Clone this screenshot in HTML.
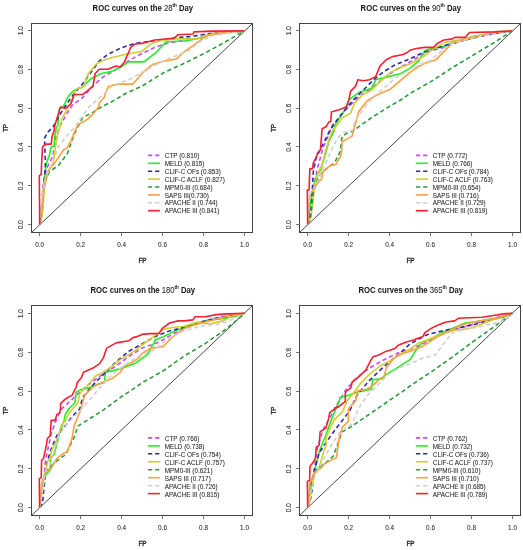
<!DOCTYPE html><html><head><meta charset="utf-8"><style>
html,body{margin:0;padding:0;background:#fff;width:523px;height:550px;overflow:hidden}
svg{display:block;filter:blur(0.3px)}
text{font-family:"Liberation Sans", sans-serif;fill:#1a1a1a;stroke:#1a1a1a;stroke-width:0.04px}
</style></head><body>
<svg width="523" height="550" viewBox="0 0 523 550">
<g><line x1="31.5" y1="232.5" x2="252.5" y2="23.5" stroke="#333" stroke-width="0.9"/>
<polyline points="39.6,224.5 43.5,182.2 46.4,168.9 49.3,163.2 53.1,155.5 56,136.4 58.8,128.8 65.7,115.5 72,105.5 82.7,97.5 93.4,85.4 104.1,76.1 112.2,72 120.2,66.7 129.6,60 142,53.5 154.7,47.4 167.5,43.2 180.2,41 195.1,38.9 205.7,35.7 226.9,32.5 244.3,30.9" fill="none" stroke="#c84cf8" stroke-width="1.6" stroke-linejoin="round" stroke-dasharray="4.3 2.9"/>
<polyline points="39.6,224.5 41.6,216.6 43.5,188 44.5,176.5 46.4,163.2 49.3,155.5 51.2,146.9 54,146 55,134.5 56,128.8 57.9,125 59.3,109.2 63.5,106.1 68.8,95.6 74.1,90.3 82.5,87.2 90.9,78.7 101.4,73.5 111.9,71.4 120.3,67.2 128.8,61.9 142,61.9 144.7,61.4 156.8,51.8 166.1,41.7 184.4,41 201.4,37.9 212,33.6 231.1,32.5 244.3,30.9" fill="none" stroke="#22f022" stroke-width="1.6" stroke-linejoin="round"/>
<polyline points="39.6,224.5 40.7,220.4 42.6,207.1 43.5,191.8 44.5,178.4 45.5,163.2 44.5,138.4 47.4,132.6 53.1,126.9 59.3,115.5 66.7,104 74.1,93.5 82.5,84 90.9,72.4 99.3,60.9 107.7,54.5 120.3,48.2 133,44 142,42.4 159,40 176,37.9 192.9,36.2 212,33.2 226.9,31.9 244.3,30.9" fill="none" stroke="#2c2ca8" stroke-width="1.6" stroke-linejoin="round" stroke-dasharray="4.3 2.9"/>
<polyline points="39.6,224.5 42.6,212.8 44.5,188 46.4,178.4 49.3,168.9 53.1,163.2 55,149.8 57.9,132.6 60.7,125 61.5,119.8 65.7,111.3 72,100.2 76,89.5 80,88.1 84.7,86.1 86,78.7 88.7,73.4 96.1,64 104.1,60 111.9,57.7 124.5,54.5 142,51.4 150.5,44.2 159,41 173.8,38.9 197.2,38.9 207.8,34.7 226.9,32.5 244.3,30.9" fill="none" stroke="#d4cc30" stroke-width="1.6" stroke-linejoin="round"/>
<polyline points="39.6,224.5 40.7,216.6 44.5,182.2 49.3,171.8 58.8,165.1 67.4,153.6 74.1,134.5 78.8,125 82.7,117.5 92.1,112.9 101.5,106.8 112.2,101.5 125.5,93.5 142,86.1 163.2,72.9 184.4,63.3 205.7,52.7 226.9,41 244.3,30.9" fill="none" stroke="#2c9c3c" stroke-width="1.6" stroke-linejoin="round" stroke-dasharray="4.3 2.9"/>
<polyline points="39.6,224.5 41.6,209 44.5,182.2 48.3,170.8 54,164.1 63.6,149.8 66.4,148.8 71.2,140.3 75,130.7 77.9,125 78,124.2 82.7,122.2 88.1,118.9 93.4,113.5 98.8,106.8 99.4,102.8 104.1,97.5 108.1,86.8 112.2,85.4 118.8,84.1 132.9,84.1 142,73.4 152.6,64.4 163.2,61.2 176,59.1 184.4,51.6 195.1,44.2 203.6,37.9 212,33.6 231.1,31.9 244.3,30.9" fill="none" stroke="#ffa040" stroke-width="1.6" stroke-linejoin="round"/>
<polyline points="39.6,224.5 41.6,201.3 45.5,176.5 50.2,168.9 58.8,146 66.4,136.4 75,126.9 88.8,107.1 97.2,99.8 105.6,92.4 111.9,86.1 120.3,82.9 130.8,78.7 142,72.4 154.7,65.5 165.3,60.1 178.1,54.8 188.7,50.6 199.3,42.1 212,35.7 226.9,33.2 244.3,30.9" fill="none" stroke="#cfcfcf" stroke-width="1.6" stroke-linejoin="round" stroke-dasharray="4.3 2.9"/>
<polyline points="39.6,224.5 39.7,224.2 39.3,175.6 41.2,174.6 41.6,163.2 42.6,146.9 45.5,144.1 51.2,144.1 52.1,136.4 54,130.7 55,125 60.4,107.1 65.7,108.2 70.9,104 74.1,94.5 82.5,94.5 86.7,91.4 93,86.1 95.1,73.5 99.3,69.3 107.7,69.3 116.1,66.1 120.3,67.2 124.5,61.9 130.8,47.2 135.1,44 142,43.4 154.7,40 173.8,38.3 178.1,34.7 192.9,34 194,31.9 212,31.1 244.3,30.9" fill="none" stroke="#f82030" stroke-width="1.6" stroke-linejoin="round"/>
<rect x="31.5" y="23.5" width="221" height="209" fill="none" stroke="#444" stroke-width="1"/>
<line x1="39.5" y1="232.5" x2="39.5" y2="236.1" stroke="#555" stroke-width="0.8"/>
<line x1="31.5" y1="224.5" x2="27.9" y2="224.5" stroke="#555" stroke-width="0.8"/>
<text x="39.6" y="247.3" font-size="6.4" text-anchor="middle">0.0</text>
<text transform="translate(22.8,224.6) rotate(-90)" font-size="6.4" text-anchor="middle">0.0</text>
<line x1="80.5" y1="232.5" x2="80.5" y2="236.1" stroke="#555" stroke-width="0.8"/>
<line x1="31.5" y1="185.5" x2="27.9" y2="185.5" stroke="#555" stroke-width="0.8"/>
<text x="80.6" y="247.3" font-size="6.4" text-anchor="middle">0.2</text>
<text transform="translate(22.8,185.8) rotate(-90)" font-size="6.4" text-anchor="middle">0.2</text>
<line x1="121.5" y1="232.5" x2="121.5" y2="236.1" stroke="#555" stroke-width="0.8"/>
<line x1="31.5" y1="146.5" x2="27.9" y2="146.5" stroke="#555" stroke-width="0.8"/>
<text x="121.6" y="247.3" font-size="6.4" text-anchor="middle">0.4</text>
<text transform="translate(22.8,147) rotate(-90)" font-size="6.4" text-anchor="middle">0.4</text>
<line x1="162.5" y1="232.5" x2="162.5" y2="236.1" stroke="#555" stroke-width="0.8"/>
<line x1="31.5" y1="108.5" x2="27.9" y2="108.5" stroke="#555" stroke-width="0.8"/>
<text x="162.5" y="247.3" font-size="6.4" text-anchor="middle">0.6</text>
<text transform="translate(22.8,108.2) rotate(-90)" font-size="6.4" text-anchor="middle">0.6</text>
<line x1="203.5" y1="232.5" x2="203.5" y2="236.1" stroke="#555" stroke-width="0.8"/>
<line x1="31.5" y1="69.5" x2="27.9" y2="69.5" stroke="#555" stroke-width="0.8"/>
<text x="203.5" y="247.3" font-size="6.4" text-anchor="middle">0.8</text>
<text transform="translate(22.8,69.4) rotate(-90)" font-size="6.4" text-anchor="middle">0.8</text>
<line x1="244.5" y1="232.5" x2="244.5" y2="236.1" stroke="#555" stroke-width="0.8"/>
<line x1="31.5" y1="30.5" x2="27.9" y2="30.5" stroke="#555" stroke-width="0.8"/>
<text x="244.5" y="247.3" font-size="6.4" text-anchor="middle">1.0</text>
<text transform="translate(22.8,30.6) rotate(-90)" font-size="6.4" text-anchor="middle">1.0</text>
<text x="142.5" y="263.1" font-size="6.4" text-anchor="middle" style="stroke-width:0.3px">FP</text>
<text transform="translate(8,128) rotate(-90)" font-size="6.4" text-anchor="middle" style="stroke-width:0.3px">TP</text>
<text transform="translate(142.8,10.6) scale(0.915,1)" font-size="8.4" font-weight="bold" text-anchor="middle">ROC curves on the <tspan font-weight="normal" style="stroke-width:0.05px">28</tspan><tspan font-size="5" dy="-4.0">th</tspan><tspan dy="4.0"> Day</tspan></text>
<line x1="147.9" y1="155.4" x2="159.9" y2="155.4" stroke="#c84cf8" stroke-width="1.6" stroke-dasharray="4.3 2.9"/>
<text x="164.8" y="158.2" font-size="6.36">CTP (0.810)</text>
<line x1="147.9" y1="163.3" x2="159.9" y2="163.3" stroke="#22f022" stroke-width="1.6"/>
<text x="164.8" y="166.1" font-size="6.36">MELD (0.815)</text>
<line x1="147.9" y1="171.2" x2="159.9" y2="171.2" stroke="#2c2ca8" stroke-width="1.6" stroke-dasharray="4.3 2.9"/>
<text x="164.8" y="174" font-size="6.36">CLIF-C OFs (0.853)</text>
<line x1="147.9" y1="179.1" x2="159.9" y2="179.1" stroke="#d4cc30" stroke-width="1.6"/>
<text x="164.8" y="181.8" font-size="6.36">CLIF-C ACLF (0.827)</text>
<line x1="147.9" y1="187" x2="159.9" y2="187" stroke="#2c9c3c" stroke-width="1.6" stroke-dasharray="4.3 2.9"/>
<text x="164.8" y="189.7" font-size="6.36">MPM0-III (0.684)</text>
<line x1="147.9" y1="194.9" x2="159.9" y2="194.9" stroke="#ffa040" stroke-width="1.6"/>
<text x="164.8" y="197.6" font-size="6.36">SAPS III(0.730)</text>
<line x1="147.9" y1="202.8" x2="159.9" y2="202.8" stroke="#cfcfcf" stroke-width="1.6" stroke-dasharray="4.3 2.9"/>
<text x="164.8" y="205.4" font-size="6.36">APACHE II (0.744)</text>
<line x1="147.9" y1="210.7" x2="159.9" y2="210.7" stroke="#f82030" stroke-width="1.6"/>
<text x="164.8" y="213.3" font-size="6.36">APACHE III (0.841)</text></g>
<g><line x1="299.5" y1="232.5" x2="520.5" y2="23.5" stroke="#333" stroke-width="0.9"/>
<polyline points="307.7,224.5 308.7,216.6 312.5,191.8 317.3,168.9 323,147.9 328.7,134.5 332.5,125 346.3,109.2 358.9,96.6 371.5,88.2 384.1,77.7 396.8,69.3 410,61.9 427,51.6 444,47.4 460.9,41 477.9,36.8 494.9,33.6 512.3,30.9" fill="none" stroke="#c84cf8" stroke-width="1.6" stroke-linejoin="round" stroke-dasharray="4.3 2.9"/>
<polyline points="307.7,224.5 308.7,214.7 311.5,197.5 313.4,186.1 317.3,174.6 320.7,170 324.8,156.2 328.8,141.5 334.1,130.8 334.8,125.4 338.1,120.1 340.8,116.1 346.2,108 348.9,100 350.5,98.7 358.9,92.4 371.5,88.2 375.7,79.8 388.3,76.6 401,73.5 410,68.2 418.5,61.2 424.9,50.6 431.2,48.5 444,46.4 456.7,41 465.2,38.9 473.7,36.2 484.3,34.7 499.1,31.9 512.3,30.9" fill="none" stroke="#22f022" stroke-width="1.6" stroke-linejoin="round"/>
<polyline points="307.7,224.5 309.6,220.4 311.5,205.2 312.5,186.1 313.4,170.8 316.3,157.4 321.1,147.9 324.9,140.3 329.7,130.7 333.5,125 342.1,113.4 352.6,100.8 363.1,90.3 373.6,79.8 384.1,71.4 394.6,65.1 410,58.8 422.7,52.7 435.5,48.5 452.4,43.2 469.4,38.9 486.4,34.7 499.1,32.5 512.3,30.9" fill="none" stroke="#2c2ca8" stroke-width="1.6" stroke-linejoin="round" stroke-dasharray="4.3 2.9"/>
<polyline points="307.7,224.5 310.6,218.5 312.5,205.2 314.4,186.1 318.2,172.7 322,165.1 324.9,153.6 328.7,140.3 332.5,130.7 337.3,125 342.1,117.7 350.5,113.4 354.7,102.9 363.1,94.5 371.5,90.3 379.9,81.9 390.4,72.4 401,67.2 410,64 422.7,57 435.5,47.4 446.1,42.1 458.8,40 473.7,36.8 494.9,32.5 512.3,30.9" fill="none" stroke="#d4cc30" stroke-width="1.6" stroke-linejoin="round"/>
<polyline points="307.7,224.5 310.6,216.6 313.4,191.8 318.2,178.4 321.1,173.7 328.7,167 334.4,163.2 340.2,151.7 342.1,136.4 347.8,132.6 352,131.7 371.5,117.7 388.3,107.1 401,99.8 410,93.5 431.2,81.4 452.4,67.6 473.7,54.8 494.9,42.1 512.3,30.9" fill="none" stroke="#2c9c3c" stroke-width="1.6" stroke-linejoin="round" stroke-dasharray="4.3 2.9"/>
<polyline points="307.7,224.5 307.7,220.4 309.6,197.5 309.8,195.3 314.8,186.8 321.8,178.3 323.2,171.2 330.3,165.6 336,164.2 340.9,155.7 341.7,150 342.1,142.2 347.8,138.4 352,136.4 358.9,111.3 367.3,100.8 377.8,94.5 390.4,89.2 398.9,81.9 410,72.4 418.5,66.5 427,62.3 435.5,60.1 444,51.6 452.4,43.2 465.2,39.5 480,35.7 494.9,31.9 512.3,30.9" fill="none" stroke="#ffa040" stroke-width="1.6" stroke-linejoin="round"/>
<polyline points="307.7,224.5 309.6,193.7 315.4,186.1 319.2,178.4 324.9,165.1 330.6,151.7 336.4,140.3 342.1,132.6 352,130.7 354.7,121.8 363.1,109.2 373.6,96.6 384.1,88.2 394.6,78.7 410,69.3 418.5,65.5 431.2,60.1 444,48.5 452.4,43.2 465.2,40 482.2,35.7 499.1,33.2 512.3,30.9" fill="none" stroke="#cfcfcf" stroke-width="1.6" stroke-linejoin="round" stroke-dasharray="4.3 2.9"/>
<polyline points="307.7,224.5 307.3,189.9 307.7,190.4 309.1,189.7 309.8,169.1 312.6,168.4 313.3,162.8 315.5,158.5 316.9,155.7 317.6,152.8 320.4,150 320.7,146.8 322.1,128.8 326.1,126.8 328.8,122.1 330.8,121.4 331.4,112 335.5,110.7 342.1,108.7 346.2,106.7 348.9,100 350.5,91.4 355.7,86.1 357.8,79.8 363.1,80.8 369.4,79.8 375.7,76.6 379.9,66.1 386.2,59.8 392.5,56.6 403.1,54.5 407.3,52.5 410,50.3 416.4,48.5 424.9,47.4 433.4,47.4 437.6,43.2 444,40 452.4,38.9 454.6,37.4 465.2,37.4 469.4,32.5 494.9,31.9 512.3,30.9" fill="none" stroke="#f82030" stroke-width="1.6" stroke-linejoin="round"/>
<rect x="299.5" y="23.5" width="221" height="209" fill="none" stroke="#444" stroke-width="1"/>
<line x1="307.5" y1="232.5" x2="307.5" y2="236.1" stroke="#555" stroke-width="0.8"/>
<line x1="299.5" y1="224.5" x2="295.9" y2="224.5" stroke="#555" stroke-width="0.8"/>
<text x="307.6" y="247.3" font-size="6.4" text-anchor="middle">0.0</text>
<text transform="translate(290.8,224.6) rotate(-90)" font-size="6.4" text-anchor="middle">0.0</text>
<line x1="348.5" y1="232.5" x2="348.5" y2="236.1" stroke="#555" stroke-width="0.8"/>
<line x1="299.5" y1="185.5" x2="295.9" y2="185.5" stroke="#555" stroke-width="0.8"/>
<text x="348.6" y="247.3" font-size="6.4" text-anchor="middle">0.2</text>
<text transform="translate(290.8,185.8) rotate(-90)" font-size="6.4" text-anchor="middle">0.2</text>
<line x1="389.5" y1="232.5" x2="389.5" y2="236.1" stroke="#555" stroke-width="0.8"/>
<line x1="299.5" y1="146.5" x2="295.9" y2="146.5" stroke="#555" stroke-width="0.8"/>
<text x="389.6" y="247.3" font-size="6.4" text-anchor="middle">0.4</text>
<text transform="translate(290.8,147) rotate(-90)" font-size="6.4" text-anchor="middle">0.4</text>
<line x1="430.5" y1="232.5" x2="430.5" y2="236.1" stroke="#555" stroke-width="0.8"/>
<line x1="299.5" y1="108.5" x2="295.9" y2="108.5" stroke="#555" stroke-width="0.8"/>
<text x="430.5" y="247.3" font-size="6.4" text-anchor="middle">0.6</text>
<text transform="translate(290.8,108.2) rotate(-90)" font-size="6.4" text-anchor="middle">0.6</text>
<line x1="471.5" y1="232.5" x2="471.5" y2="236.1" stroke="#555" stroke-width="0.8"/>
<line x1="299.5" y1="69.5" x2="295.9" y2="69.5" stroke="#555" stroke-width="0.8"/>
<text x="471.5" y="247.3" font-size="6.4" text-anchor="middle">0.8</text>
<text transform="translate(290.8,69.4) rotate(-90)" font-size="6.4" text-anchor="middle">0.8</text>
<line x1="512.5" y1="232.5" x2="512.5" y2="236.1" stroke="#555" stroke-width="0.8"/>
<line x1="299.5" y1="30.5" x2="295.9" y2="30.5" stroke="#555" stroke-width="0.8"/>
<text x="512.5" y="247.3" font-size="6.4" text-anchor="middle">1.0</text>
<text transform="translate(290.8,30.6) rotate(-90)" font-size="6.4" text-anchor="middle">1.0</text>
<text x="410.5" y="263.1" font-size="6.4" text-anchor="middle" style="stroke-width:0.3px">FP</text>
<text transform="translate(276,128) rotate(-90)" font-size="6.4" text-anchor="middle" style="stroke-width:0.3px">TP</text>
<text transform="translate(410.8,10.6) scale(0.915,1)" font-size="8.4" font-weight="bold" text-anchor="middle">ROC curves on the <tspan font-weight="normal" style="stroke-width:0.05px">90</tspan><tspan font-size="5" dy="-4.0">th</tspan><tspan dy="4.0"> Day</tspan></text>
<line x1="415.9" y1="155.4" x2="427.9" y2="155.4" stroke="#c84cf8" stroke-width="1.6" stroke-dasharray="4.3 2.9"/>
<text x="432.8" y="158.2" font-size="6.36">CTP (0.772)</text>
<line x1="415.9" y1="163.3" x2="427.9" y2="163.3" stroke="#22f022" stroke-width="1.6"/>
<text x="432.8" y="166.1" font-size="6.36">MELD (0.766)</text>
<line x1="415.9" y1="171.2" x2="427.9" y2="171.2" stroke="#2c2ca8" stroke-width="1.6" stroke-dasharray="4.3 2.9"/>
<text x="432.8" y="174" font-size="6.36">CLIF-C OFs (0.784)</text>
<line x1="415.9" y1="179.1" x2="427.9" y2="179.1" stroke="#d4cc30" stroke-width="1.6"/>
<text x="432.8" y="181.8" font-size="6.36">CLIF-C ACLF (0.763)</text>
<line x1="415.9" y1="187" x2="427.9" y2="187" stroke="#2c9c3c" stroke-width="1.6" stroke-dasharray="4.3 2.9"/>
<text x="432.8" y="189.7" font-size="6.36">MPM0-III (0.654)</text>
<line x1="415.9" y1="194.9" x2="427.9" y2="194.9" stroke="#ffa040" stroke-width="1.6"/>
<text x="432.8" y="197.6" font-size="6.36">SAPS III (0.716)</text>
<line x1="415.9" y1="202.8" x2="427.9" y2="202.8" stroke="#cfcfcf" stroke-width="1.6" stroke-dasharray="4.3 2.9"/>
<text x="432.8" y="205.4" font-size="6.36">APACHE II (0.729)</text>
<line x1="415.9" y1="210.7" x2="427.9" y2="210.7" stroke="#f82030" stroke-width="1.6"/>
<text x="432.8" y="213.3" font-size="6.36">APACHE III (0.819)</text></g>
<g><line x1="31.5" y1="515.5" x2="252.5" y2="305.5" stroke="#333" stroke-width="0.9"/>
<polyline points="39.6,507.5 40.7,502.4 43.5,483.3 45.5,460.4 51.2,433.7 56.9,418.4 61.7,408.9 74.1,397.5 86.7,386 99.3,376.5 116.1,366 128.8,356.5 142,348.1 159,342.1 171.7,334.7 184.4,328.4 197.2,324.1 212,318.8 226.9,315.6 244.7,313.3" fill="none" stroke="#c84cf8" stroke-width="1.6" stroke-linejoin="round" stroke-dasharray="4.3 2.9"/>
<polyline points="39.6,507.5 40.7,496.7 43.5,477.6 50.1,470 50.7,457.6 54.1,454.9 56.8,444.2 59.4,433.5 64.3,419.9 65.3,414.2 69.1,408.5 74.9,402.7 76.3,392.2 80.6,389.8 88.2,387.9 92.1,386.5 100,383.6 104.6,382.8 105.3,372.1 112.9,370.6 122.1,368.3 135.9,362.9 148.1,353.8 151.2,347.6 155.8,340 154.7,340 163.2,336.8 171.7,332.6 184.4,327.3 197.2,323 209.9,319.9 222.7,318.8 233.3,316.7 244.7,313.3" fill="none" stroke="#22f022" stroke-width="1.6" stroke-linejoin="round"/>
<polyline points="39.6,507.5 42.6,502.4 44.5,483.3 46.4,464.2 51.2,449 56.9,435.6 66.4,424.2 72.2,416.5 79.8,408.9 82.5,397.5 93,384.9 103.5,374.4 116.1,361.8 128.8,351.3 142,343.9 154.7,336.8 167.5,331.5 184.4,327.3 197.2,323 209.9,319.9 226.9,316.7 244.7,313.3" fill="none" stroke="#2c2ca8" stroke-width="1.6" stroke-linejoin="round" stroke-dasharray="4.3 2.9"/>
<polyline points="39.6,507.5 41.6,492.9 44.5,473.8 46,470 47.4,461.6 50.1,458.9 51.4,450.9 55.4,442.8 58.8,434.8 61.5,425 65.3,420.9 69.1,413.2 72.9,408.5 77.7,403.7 79.6,394.1 83.5,389.3 88.2,384.6 94,377.9 96.8,375 99.3,374.4 109.8,368.1 120.3,359.7 130.8,353.4 137.2,349.2 142,345 154.7,335.8 163.2,329.4 173.8,327.3 184.4,326.2 197.2,322 209.9,324.1 222.7,320.9 233.3,315.6 244.7,313.3" fill="none" stroke="#d4cc30" stroke-width="1.6" stroke-linejoin="round"/>
<polyline points="39.6,507.5 40.7,500.5 43.5,483.3 45.5,471.9 53.1,464.2 59.8,458.5 65.5,454.7 74.1,437.5 77.9,426.1 84,422.3 103.5,409.9 120.3,397.5 133,389.1 142,382.8 163.2,370.8 184.4,355.9 205.7,343.2 226.9,328.4 244.7,313.3" fill="none" stroke="#2c9c3c" stroke-width="1.6" stroke-linejoin="round" stroke-dasharray="4.3 2.9"/>
<polyline points="39.6,507.5 40.7,496.7 41.6,483.3 45.5,471.9 51.2,468.1 56.9,458.5 62.6,453.8 67.4,451.9 72.2,437.5 74.1,426.1 77.9,416.5 80.8,409.9 84.6,395.4 93,387 101.4,382.8 111.9,378.6 120.3,372.3 124.5,366 133,361.8 139.3,357.6 142,353.4 150.5,348.5 163.2,346.4 173.8,335.8 184.4,328.4 197.2,324.1 209.9,320.9 222.7,317.7 231.1,314.6 244.7,313.3" fill="none" stroke="#ffa040" stroke-width="1.6" stroke-linejoin="round"/>
<polyline points="39.6,507.5 42.6,491 45.5,470 49.3,466.2 53.1,454.7 58.8,435.6 66.4,424.2 74.1,416.5 79.8,410.8 95.1,393.3 107.7,378.6 120.3,368.1 133,359.7 142,354.4 154.7,349.6 167.5,339 184.4,330.5 201.4,326.2 218.4,324.1 231.1,319.9 244.7,313.3" fill="none" stroke="#cfcfcf" stroke-width="1.6" stroke-linejoin="round" stroke-dasharray="4.3 2.9"/>
<polyline points="39.6,507.5 39.3,478.6 41.2,477.6 41.6,460.4 43.5,458.5 46.4,445.2 47.4,438.5 50.2,435.6 51.2,420.4 55,420.4 56.9,414.6 59.8,412.7 60.7,407 60.4,403.9 64.6,399.6 67.8,397.5 72,395.4 76.2,387 77.2,382.8 81.4,377.6 83.5,372.3 93,368.1 99.3,363.9 103.5,357.6 106.7,348.1 116.1,342.9 128.8,340.8 133,337.6 137.2,336.6 142,334.4 150.5,333.6 159,333.6 162.2,328.4 169.6,323 178.1,320.9 184.4,320.9 192.9,319.9 195.1,316.7 205.7,316.7 216.3,314.6 226.9,313.9 244.7,313.3" fill="none" stroke="#f82030" stroke-width="1.6" stroke-linejoin="round"/>
<rect x="31.5" y="305.5" width="221" height="210" fill="none" stroke="#444" stroke-width="1"/>
<line x1="39.5" y1="515.5" x2="39.5" y2="519.1" stroke="#555" stroke-width="0.8"/>
<line x1="31.5" y1="507.5" x2="27.9" y2="507.5" stroke="#555" stroke-width="0.8"/>
<text x="39.6" y="530.3" font-size="6.4" text-anchor="middle">0.0</text>
<text transform="translate(22.8,507.6) rotate(-90)" font-size="6.4" text-anchor="middle">0.0</text>
<line x1="80.5" y1="515.5" x2="80.5" y2="519.1" stroke="#555" stroke-width="0.8"/>
<line x1="31.5" y1="468.5" x2="27.9" y2="468.5" stroke="#555" stroke-width="0.8"/>
<text x="80.6" y="530.3" font-size="6.4" text-anchor="middle">0.2</text>
<text transform="translate(22.8,468.8) rotate(-90)" font-size="6.4" text-anchor="middle">0.2</text>
<line x1="121.5" y1="515.5" x2="121.5" y2="519.1" stroke="#555" stroke-width="0.8"/>
<line x1="31.5" y1="429.5" x2="27.9" y2="429.5" stroke="#555" stroke-width="0.8"/>
<text x="121.6" y="530.3" font-size="6.4" text-anchor="middle">0.4</text>
<text transform="translate(22.8,430) rotate(-90)" font-size="6.4" text-anchor="middle">0.4</text>
<line x1="162.5" y1="515.5" x2="162.5" y2="519.1" stroke="#555" stroke-width="0.8"/>
<line x1="31.5" y1="391.5" x2="27.9" y2="391.5" stroke="#555" stroke-width="0.8"/>
<text x="162.5" y="530.3" font-size="6.4" text-anchor="middle">0.6</text>
<text transform="translate(22.8,391.2) rotate(-90)" font-size="6.4" text-anchor="middle">0.6</text>
<line x1="203.5" y1="515.5" x2="203.5" y2="519.1" stroke="#555" stroke-width="0.8"/>
<line x1="31.5" y1="352.5" x2="27.9" y2="352.5" stroke="#555" stroke-width="0.8"/>
<text x="203.5" y="530.3" font-size="6.4" text-anchor="middle">0.8</text>
<text transform="translate(22.8,352.4) rotate(-90)" font-size="6.4" text-anchor="middle">0.8</text>
<line x1="244.5" y1="515.5" x2="244.5" y2="519.1" stroke="#555" stroke-width="0.8"/>
<line x1="31.5" y1="313.5" x2="27.9" y2="313.5" stroke="#555" stroke-width="0.8"/>
<text x="244.5" y="530.3" font-size="6.4" text-anchor="middle">1.0</text>
<text transform="translate(22.8,313.6) rotate(-90)" font-size="6.4" text-anchor="middle">1.0</text>
<text x="142.5" y="546.1" font-size="6.4" text-anchor="middle" style="stroke-width:0.3px">FP</text>
<text transform="translate(8,410.5) rotate(-90)" font-size="6.4" text-anchor="middle" style="stroke-width:0.3px">TP</text>
<text transform="translate(142.8,292.6) scale(0.915,1)" font-size="8.4" font-weight="bold" text-anchor="middle">ROC curves on the <tspan font-weight="normal" style="stroke-width:0.05px">180</tspan><tspan font-size="5" dy="-4.0">th</tspan><tspan dy="4.0"> Day</tspan></text>
<line x1="147.9" y1="437.9" x2="159.9" y2="437.9" stroke="#c84cf8" stroke-width="1.6" stroke-dasharray="4.3 2.9"/>
<text x="164.8" y="440.9" font-size="6.36">CTP (0.766)</text>
<line x1="147.9" y1="445.9" x2="159.9" y2="445.9" stroke="#22f022" stroke-width="1.6"/>
<text x="164.8" y="448.9" font-size="6.36">MELD (0.738)</text>
<line x1="147.9" y1="453.8" x2="159.9" y2="453.8" stroke="#2c2ca8" stroke-width="1.6" stroke-dasharray="4.3 2.9"/>
<text x="164.8" y="456.8" font-size="6.36">CLIF-C OFs (0.754)</text>
<line x1="147.9" y1="461.8" x2="159.9" y2="461.8" stroke="#d4cc30" stroke-width="1.6"/>
<text x="164.8" y="464.8" font-size="6.36">CLIF-C ACLF (0.757)</text>
<line x1="147.9" y1="469.7" x2="159.9" y2="469.7" stroke="#2c9c3c" stroke-width="1.6" stroke-dasharray="4.3 2.9"/>
<text x="164.8" y="472.7" font-size="6.36">MPM0-III (0.621)</text>
<line x1="147.9" y1="477.7" x2="159.9" y2="477.7" stroke="#ffa040" stroke-width="1.6"/>
<text x="164.8" y="480.6" font-size="6.36">SAPS III (0.717)</text>
<line x1="147.9" y1="485.7" x2="159.9" y2="485.7" stroke="#cfcfcf" stroke-width="1.6" stroke-dasharray="4.3 2.9"/>
<text x="164.8" y="488.6" font-size="6.36">APACHE II (0.726)</text>
<line x1="147.9" y1="493.6" x2="159.9" y2="493.6" stroke="#f82030" stroke-width="1.6"/>
<text x="164.8" y="496.5" font-size="6.36">APACHE III (0.815)</text></g>
<g><line x1="299.5" y1="515.5" x2="520.5" y2="305.5" stroke="#333" stroke-width="0.9"/>
<polyline points="307.7,507.5 308.7,498.6 311.5,483.3 314.4,468.1 317.3,449 321.1,435.6 324.9,426.1 330.6,416.5 335.4,407 346.3,389.1 356.8,377.6 369.4,368.1 384.1,359.7 396.8,353.4 410,349.2 427,342.1 439.7,334.7 452.4,330.5 467.3,326.2 484.3,320.9 499.1,316.7 512.3,313.3" fill="none" stroke="#c84cf8" stroke-width="1.6" stroke-linejoin="round" stroke-dasharray="4.3 2.9"/>
<polyline points="307.7,507.5 308.7,496.7 311.5,483.3 315.4,468.1 318.7,453.5 322.1,444.2 326.1,434.8 328.8,426.8 332.8,416.1 336.8,406.7 339.5,400 340,397.5 348.4,395.4 356.8,392.3 371.5,389.1 372.6,379.7 382,378.6 386.2,374.4 396.8,368.1 410,359.7 416.4,349.6 422.7,342.1 431.2,339 441.8,332.6 452.4,328.4 465.2,323 473.7,322 486.4,319.9 501.3,317.7 512.3,313.3" fill="none" stroke="#22f022" stroke-width="1.6" stroke-linejoin="round"/>
<polyline points="307.7,507.5 310.6,498.6 312.5,487.1 314.4,470 319.2,452.8 326.8,441.4 336.4,428 344,418.4 349.7,410.8 356.8,395.4 367.3,382.8 377.8,372.3 388.3,362.8 398.9,354.4 410,343.9 427,334.7 444,330.5 460.9,327.3 475.8,324.1 490.6,319.9 503.4,316.7 512.3,313.3" fill="none" stroke="#2c2ca8" stroke-width="1.6" stroke-linejoin="round" stroke-dasharray="4.3 2.9"/>
<polyline points="307.7,507.5 309.6,502.4 311.5,487.1 314.4,473.8 319.4,466.9 323.4,452.2 326.1,445.5 326.1,437.5 328.8,430.8 334.1,420.1 342.1,412.1 344.8,406.7 347.5,400 348.4,399.6 354.7,391.2 361,382.8 369.4,374.4 379.9,366 392.5,359.7 401,353.4 410,349.2 418.5,343.2 427,340 439.7,334.7 452.4,330.5 467.8,328.9 479.3,325.1 496.5,318.4 512.2,313.2" fill="none" stroke="#d4cc30" stroke-width="1.6" stroke-linejoin="round"/>
<polyline points="307.7,507.5 308.7,498.6 311.5,481.4 314.4,471.9 321.1,466.2 328.7,460.4 333.5,455.7 337.3,445.2 342.1,431.8 345.9,429.9 352,426.1 375.7,409.9 390.4,399.6 403.1,391.2 410,386 431.2,371.9 452.4,357 473.7,341.1 494.9,326.2 512.3,313.3" fill="none" stroke="#2c9c3c" stroke-width="1.6" stroke-linejoin="round" stroke-dasharray="4.3 2.9"/>
<polyline points="307.7,507.5 308.7,502.4 309.6,483.3 315.4,471.9 321.1,468.1 323.9,464.2 330.6,460.4 336.4,457.6 339.2,438.1 342.2,427.4 348.4,421.3 348.4,409.1 356,399.9 357.5,390.7 366.7,389.2 373.6,384.9 379.9,378.6 384.1,376.5 386.2,368.1 394.6,357.6 403.1,353.4 410,351.3 422.7,346.4 435.5,337.9 448.2,331.5 460.9,325.2 473.7,322 486.4,319.9 499.1,317.7 512.3,313.3" fill="none" stroke="#ffa040" stroke-width="1.6" stroke-linejoin="round"/>
<polyline points="307.7,507.5 310.6,492.9 314.4,477.6 319.2,468.1 324.9,456.6 332.5,443.3 340.2,431.8 352,424.2 358.9,408.1 367.3,395.4 377.8,384.9 388.3,374.4 398.9,368.1 410,363.9 422.7,358.1 435.5,354.9 444,343.2 452.4,332.6 465.2,329.4 477.9,327.3 490.6,324.1 501.3,322 512.3,313.3" fill="none" stroke="#cfcfcf" stroke-width="1.6" stroke-linejoin="round" stroke-dasharray="4.3 2.9"/>
<polyline points="307.7,507.5 307.3,481.4 309.6,480.5 310,466.2 312.5,463.3 315.4,458.5 316.3,447.1 319.2,445.2 320.1,431.8 323,429.9 325.9,428 328.7,418.4 329.7,412.7 333.5,409.9 337.3,407 334.6,408.3 337.6,407.5 345.3,401.4 345.3,393.8 346.1,391.2 350.7,388.1 352.2,382 359.9,375.9 366,369.8 370.6,360.6 372.9,356.8 378.2,355.2 385.9,351.4 395.1,348.4 398.1,345.3 405.8,342.2 413.4,339.9 418.5,337.9 422.7,336.8 424.9,332.6 431.2,328.4 437.6,325.2 446.1,322 454.6,320.9 458.8,318.2 469.4,317.7 482.2,317.3 494.9,315.2 503.4,313.9 512.3,313.3" fill="none" stroke="#f82030" stroke-width="1.6" stroke-linejoin="round"/>
<rect x="299.5" y="305.5" width="221" height="210" fill="none" stroke="#444" stroke-width="1"/>
<line x1="307.5" y1="515.5" x2="307.5" y2="519.1" stroke="#555" stroke-width="0.8"/>
<line x1="299.5" y1="507.5" x2="295.9" y2="507.5" stroke="#555" stroke-width="0.8"/>
<text x="307.6" y="530.3" font-size="6.4" text-anchor="middle">0.0</text>
<text transform="translate(290.8,507.6) rotate(-90)" font-size="6.4" text-anchor="middle">0.0</text>
<line x1="348.5" y1="515.5" x2="348.5" y2="519.1" stroke="#555" stroke-width="0.8"/>
<line x1="299.5" y1="468.5" x2="295.9" y2="468.5" stroke="#555" stroke-width="0.8"/>
<text x="348.6" y="530.3" font-size="6.4" text-anchor="middle">0.2</text>
<text transform="translate(290.8,468.8) rotate(-90)" font-size="6.4" text-anchor="middle">0.2</text>
<line x1="389.5" y1="515.5" x2="389.5" y2="519.1" stroke="#555" stroke-width="0.8"/>
<line x1="299.5" y1="429.5" x2="295.9" y2="429.5" stroke="#555" stroke-width="0.8"/>
<text x="389.6" y="530.3" font-size="6.4" text-anchor="middle">0.4</text>
<text transform="translate(290.8,430) rotate(-90)" font-size="6.4" text-anchor="middle">0.4</text>
<line x1="430.5" y1="515.5" x2="430.5" y2="519.1" stroke="#555" stroke-width="0.8"/>
<line x1="299.5" y1="391.5" x2="295.9" y2="391.5" stroke="#555" stroke-width="0.8"/>
<text x="430.5" y="530.3" font-size="6.4" text-anchor="middle">0.6</text>
<text transform="translate(290.8,391.2) rotate(-90)" font-size="6.4" text-anchor="middle">0.6</text>
<line x1="471.5" y1="515.5" x2="471.5" y2="519.1" stroke="#555" stroke-width="0.8"/>
<line x1="299.5" y1="352.5" x2="295.9" y2="352.5" stroke="#555" stroke-width="0.8"/>
<text x="471.5" y="530.3" font-size="6.4" text-anchor="middle">0.8</text>
<text transform="translate(290.8,352.4) rotate(-90)" font-size="6.4" text-anchor="middle">0.8</text>
<line x1="512.5" y1="515.5" x2="512.5" y2="519.1" stroke="#555" stroke-width="0.8"/>
<line x1="299.5" y1="313.5" x2="295.9" y2="313.5" stroke="#555" stroke-width="0.8"/>
<text x="512.5" y="530.3" font-size="6.4" text-anchor="middle">1.0</text>
<text transform="translate(290.8,313.6) rotate(-90)" font-size="6.4" text-anchor="middle">1.0</text>
<text x="410.5" y="546.1" font-size="6.4" text-anchor="middle" style="stroke-width:0.3px">FP</text>
<text transform="translate(276,410.5) rotate(-90)" font-size="6.4" text-anchor="middle" style="stroke-width:0.3px">TP</text>
<text transform="translate(410.8,292.6) scale(0.915,1)" font-size="8.4" font-weight="bold" text-anchor="middle">ROC curves on the <tspan font-weight="normal" style="stroke-width:0.05px">365</tspan><tspan font-size="5" dy="-4.0">th</tspan><tspan dy="4.0"> Day</tspan></text>
<line x1="415.9" y1="437.9" x2="427.9" y2="437.9" stroke="#c84cf8" stroke-width="1.6" stroke-dasharray="4.3 2.9"/>
<text x="432.8" y="440.9" font-size="6.36">CTP (0.762)</text>
<line x1="415.9" y1="445.9" x2="427.9" y2="445.9" stroke="#22f022" stroke-width="1.6"/>
<text x="432.8" y="448.9" font-size="6.36">MELD (0.732)</text>
<line x1="415.9" y1="453.8" x2="427.9" y2="453.8" stroke="#2c2ca8" stroke-width="1.6" stroke-dasharray="4.3 2.9"/>
<text x="432.8" y="456.8" font-size="6.36">CLIF-C OFs (0.736)</text>
<line x1="415.9" y1="461.8" x2="427.9" y2="461.8" stroke="#d4cc30" stroke-width="1.6"/>
<text x="432.8" y="464.8" font-size="6.36">CLIF-C ACLF (0.737)</text>
<line x1="415.9" y1="469.7" x2="427.9" y2="469.7" stroke="#2c9c3c" stroke-width="1.6" stroke-dasharray="4.3 2.9"/>
<text x="432.8" y="472.7" font-size="6.36">MPM0-III (0.610)</text>
<line x1="415.9" y1="477.7" x2="427.9" y2="477.7" stroke="#ffa040" stroke-width="1.6"/>
<text x="432.8" y="480.6" font-size="6.36">SAPS III (0.710)</text>
<line x1="415.9" y1="485.7" x2="427.9" y2="485.7" stroke="#cfcfcf" stroke-width="1.6" stroke-dasharray="4.3 2.9"/>
<text x="432.8" y="488.6" font-size="6.36">APACHE II (0.685)</text>
<line x1="415.9" y1="493.6" x2="427.9" y2="493.6" stroke="#f82030" stroke-width="1.6"/>
<text x="432.8" y="496.5" font-size="6.36">APACHE III (0.789)</text></g>
</svg></body></html>
